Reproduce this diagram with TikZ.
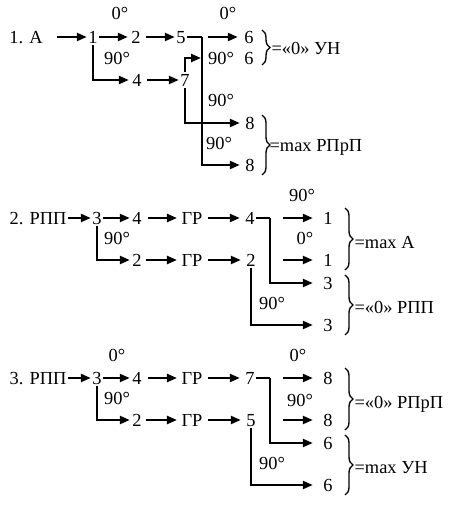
\documentclass[tikz,border=0pt]{standalone}
\usepackage{fontspec}
\setmainfont{Liberation Serif}
\usetikzlibrary{arrows.meta,calc,decorations.pathreplacing}
\tikzset{
  t/.style={inner sep=1pt, text height=9.3pt, text depth=0pt, font=\fontsize{13.8}{16}\selectfont},
  lbl/.style={t},
  ln/.style={line width=1.7pt},
  arr/.style={line width=1.7pt, -{Triangle[length=7.5pt,width=6pt]}},
  br/.style={line width=1pt, decorate, decoration={brace, amplitude=6pt}},
}
\begin{document}
\begin{tikzpicture}[x=0.75pt,y=-0.75pt]
\useasboundingbox (0,0) rectangle (474,506);
% ---------------- section 1 ----------------
\node[t] (A) at (26,37) {1. A};
\node[t] (s1n1) at (93,37) {1};
\node[t] (s1n2) at (136,37) {2};
\node[t] (s1n5) at (181,37) {5};
\node[t] (s1n6a) at (249,37) {6};
\node[t] (s1n6b) at (249,58) {6};
\node[t] (s1n4) at (137,80) {4};
\node[t] (s1n7) at (185,80) {7};
\node[t] (s1n8a) at (250,123) {8};
\node[t] (s1n8b) at (250,165) {8};
\coordinate (s1c5) at (202,37);
\coordinate (s1j) at (201,58);
\node[lbl] (s1l1) at (120,13) {0°};
\node[lbl] (s1l2) at (228,13) {0°};
\node[lbl] (s1l3) at (117,58) {90°};
\node[lbl] (s1l4) at (221,58) {90°};
\node[lbl] (s1l5) at (221,100) {90°};
\node[lbl] (s1l6) at (219,143) {90°};
\draw[arr] ($(A.east)+(13,0)$) -- (s1n1.west);
\draw[arr] (s1n1.east) -- ($(s1n2.west)+(-2,0)$);
\draw[arr] ($(s1n2.east)+(4,0)$) -- (s1n5.west);
\draw[ln] (s1n5.east) -- (s1c5);
\draw[arr] (s1c5) |- ($(s1n8b.west)+(-4,0)$);
\draw[arr] ($(s1c5)+(6,0)$) -- ($(s1n6a.west)+(-5,0)$);
\draw[arr] (s1n1.south) |- ($(s1n4.west)+(-2,0)$);
\draw[arr] ($(s1n4.east)+(4,0)$) -- (s1n7.west);
\draw[arr] (s1n7.north) |- (s1j);
\draw[arr] (s1n7.south) |- ($(s1n8a.west)+(-4,0)$);
\draw[br] (262,30) -- (262,65) coordinate[midway] (s1b1);
\draw[br] (262,115) -- (262,175) coordinate[midway] (s1b2);
\node[t, anchor=west] (s1r1) at (270,48) {=«0» УН};
\node[t, anchor=west] (s1r2) at (268,145) {=max РПрП};
% ---------------- section 2 ----------------
\node[t] (B) at (38,218) {2. РПП};
\node[t] (s2n3) at (97,218) {3};
\node[t] (s2n4) at (137,218) {4};
\node[t] (s2g1) at (192,218) {ГР};
\node[t] (s2n4b) at (250,218) {4};
\node[t] (s2n2) at (137,260) {2};
\node[t] (s2g2) at (192,260) {ГР};
\node[t] (s2n2b) at (251,260) {2};
\node[t] (s2o1) at (328,218) {1};
\node[t] (s2o2) at (328,260) {1};
\node[t] (s2o3) at (328,283) {3};
\node[t] (s2o4) at (328,325) {3};
\coordinate (s2c) at (270,218);
\coordinate (s2a1) at (283,218);
\coordinate (s2a2) at (283,260);
\node[lbl] (s2l1) at (117,238) {90°};
\node[lbl] (s2l2) at (302,195) {90°};
\node[lbl] (s2l3) at (305,238) {0°};
\node[lbl] (s2l4) at (272,303) {90°};
\draw[arr] (B.east) -- (s2n3.west);
\draw[arr] (s2n3.east) -- ($(s2n4.west)+(-1,0)$);
\draw[arr] ($(s2n4.east)+(5,0)$) -- ($(s2g1.west)+(-3,0)$);
\draw[arr] ($(s2g1.east)+(4,0)$) -- ($(s2n4b.west)+(-4,0)$);
\draw[ln] (s2n4b.east) -- (s2c);
\draw[arr] (s2c) |- ($(s2o3.west)+(-9,0)$);
\draw[arr] (s2a1) -- ($(s2o1.west)+(-9,0)$);
\draw[arr] (s2a2) -- ($(s2o2.west)+(-9,0)$);
\draw[arr] (s2n3.south) |- ($(s2n2.west)+(-1,0)$);
\draw[arr] ($(s2n2.east)+(3,0)$) -- ($(s2g2.west)+(-3,0)$);
\draw[arr] ($(s2g2.east)+(4,0)$) -- ($(s2n2b.west)+(-4,0)$);
\draw[arr] (s2n2b.south) |- ($(s2o4.west)+(-9,0)$);
\draw[br] (345,208) -- (345,270);
\draw[br] (345,275) -- (345,335);
\node[t, anchor=west] (s2r1) at (353,242) {=max A};
\node[t, anchor=west] (s2r2) at (353,307) {=«0» РПП};
% ---------------- section 3 ----------------
\node[t] (C) at (38,378) {3. РПП};
\node[t] (s3n3) at (97,378) {3};
\node[t] (s3n4) at (137,378) {4};
\node[t] (s3g1) at (192,378) {ГР};
\node[t] (s3n7) at (250,378) {7};
\node[t] (s3n2) at (137,420) {2};
\node[t] (s3g2) at (192,420) {ГР};
\node[t] (s3n5) at (251,420) {5};
\node[t] (s3o1) at (328,378) {8};
\node[t] (s3o2) at (328,420) {8};
\node[t] (s3o3) at (328,443) {6};
\node[t] (s3o4) at (328,485) {6};
\coordinate (s3c) at (270,378);
\coordinate (s3a1) at (283,378);
\coordinate (s3a2) at (283,420);
\node[lbl] (s3l0) at (117,355) {0°};
\node[lbl] (s3l1) at (117,398) {90°};
\node[lbl] (s3l2) at (298,355) {0°};
\node[lbl] (s3l3) at (300,400) {90°};
\node[lbl] (s3l4) at (272,463) {90°};
\draw[arr] (C.east) -- (s3n3.west);
\draw[arr] (s3n3.east) -- ($(s3n4.west)+(-1,0)$);
\draw[arr] ($(s3n4.east)+(5,0)$) -- ($(s3g1.west)+(-3,0)$);
\draw[arr] ($(s3g1.east)+(4,0)$) -- ($(s3n7.west)+(-4,0)$);
\draw[ln] (s3n7.east) -- (s3c);
\draw[arr] (s3c) |- ($(s3o3.west)+(-9,0)$);
\draw[arr] (s3a1) -- ($(s3o1.west)+(-9,0)$);
\draw[arr] (s3a2) -- ($(s3o2.west)+(-9,0)$);
\draw[arr] (s3n3.south) |- ($(s3n2.west)+(-1,0)$);
\draw[arr] ($(s3n2.east)+(3,0)$) -- ($(s3g2.west)+(-3,0)$);
\draw[arr] ($(s3g2.east)+(4,0)$) -- ($(s3n5.west)+(-4,0)$);
\draw[arr] (s3n5.south) |- ($(s3o4.west)+(-9,0)$);
\draw[br] (345,368) -- (345,430);
\draw[br] (345,435) -- (345,495);
\node[t, anchor=west] (s3r1) at (353,402) {=«0» РПрП};
\node[t, anchor=west] (s3r2) at (353,467) {=max УН};
\end{tikzpicture}
\end{document}
